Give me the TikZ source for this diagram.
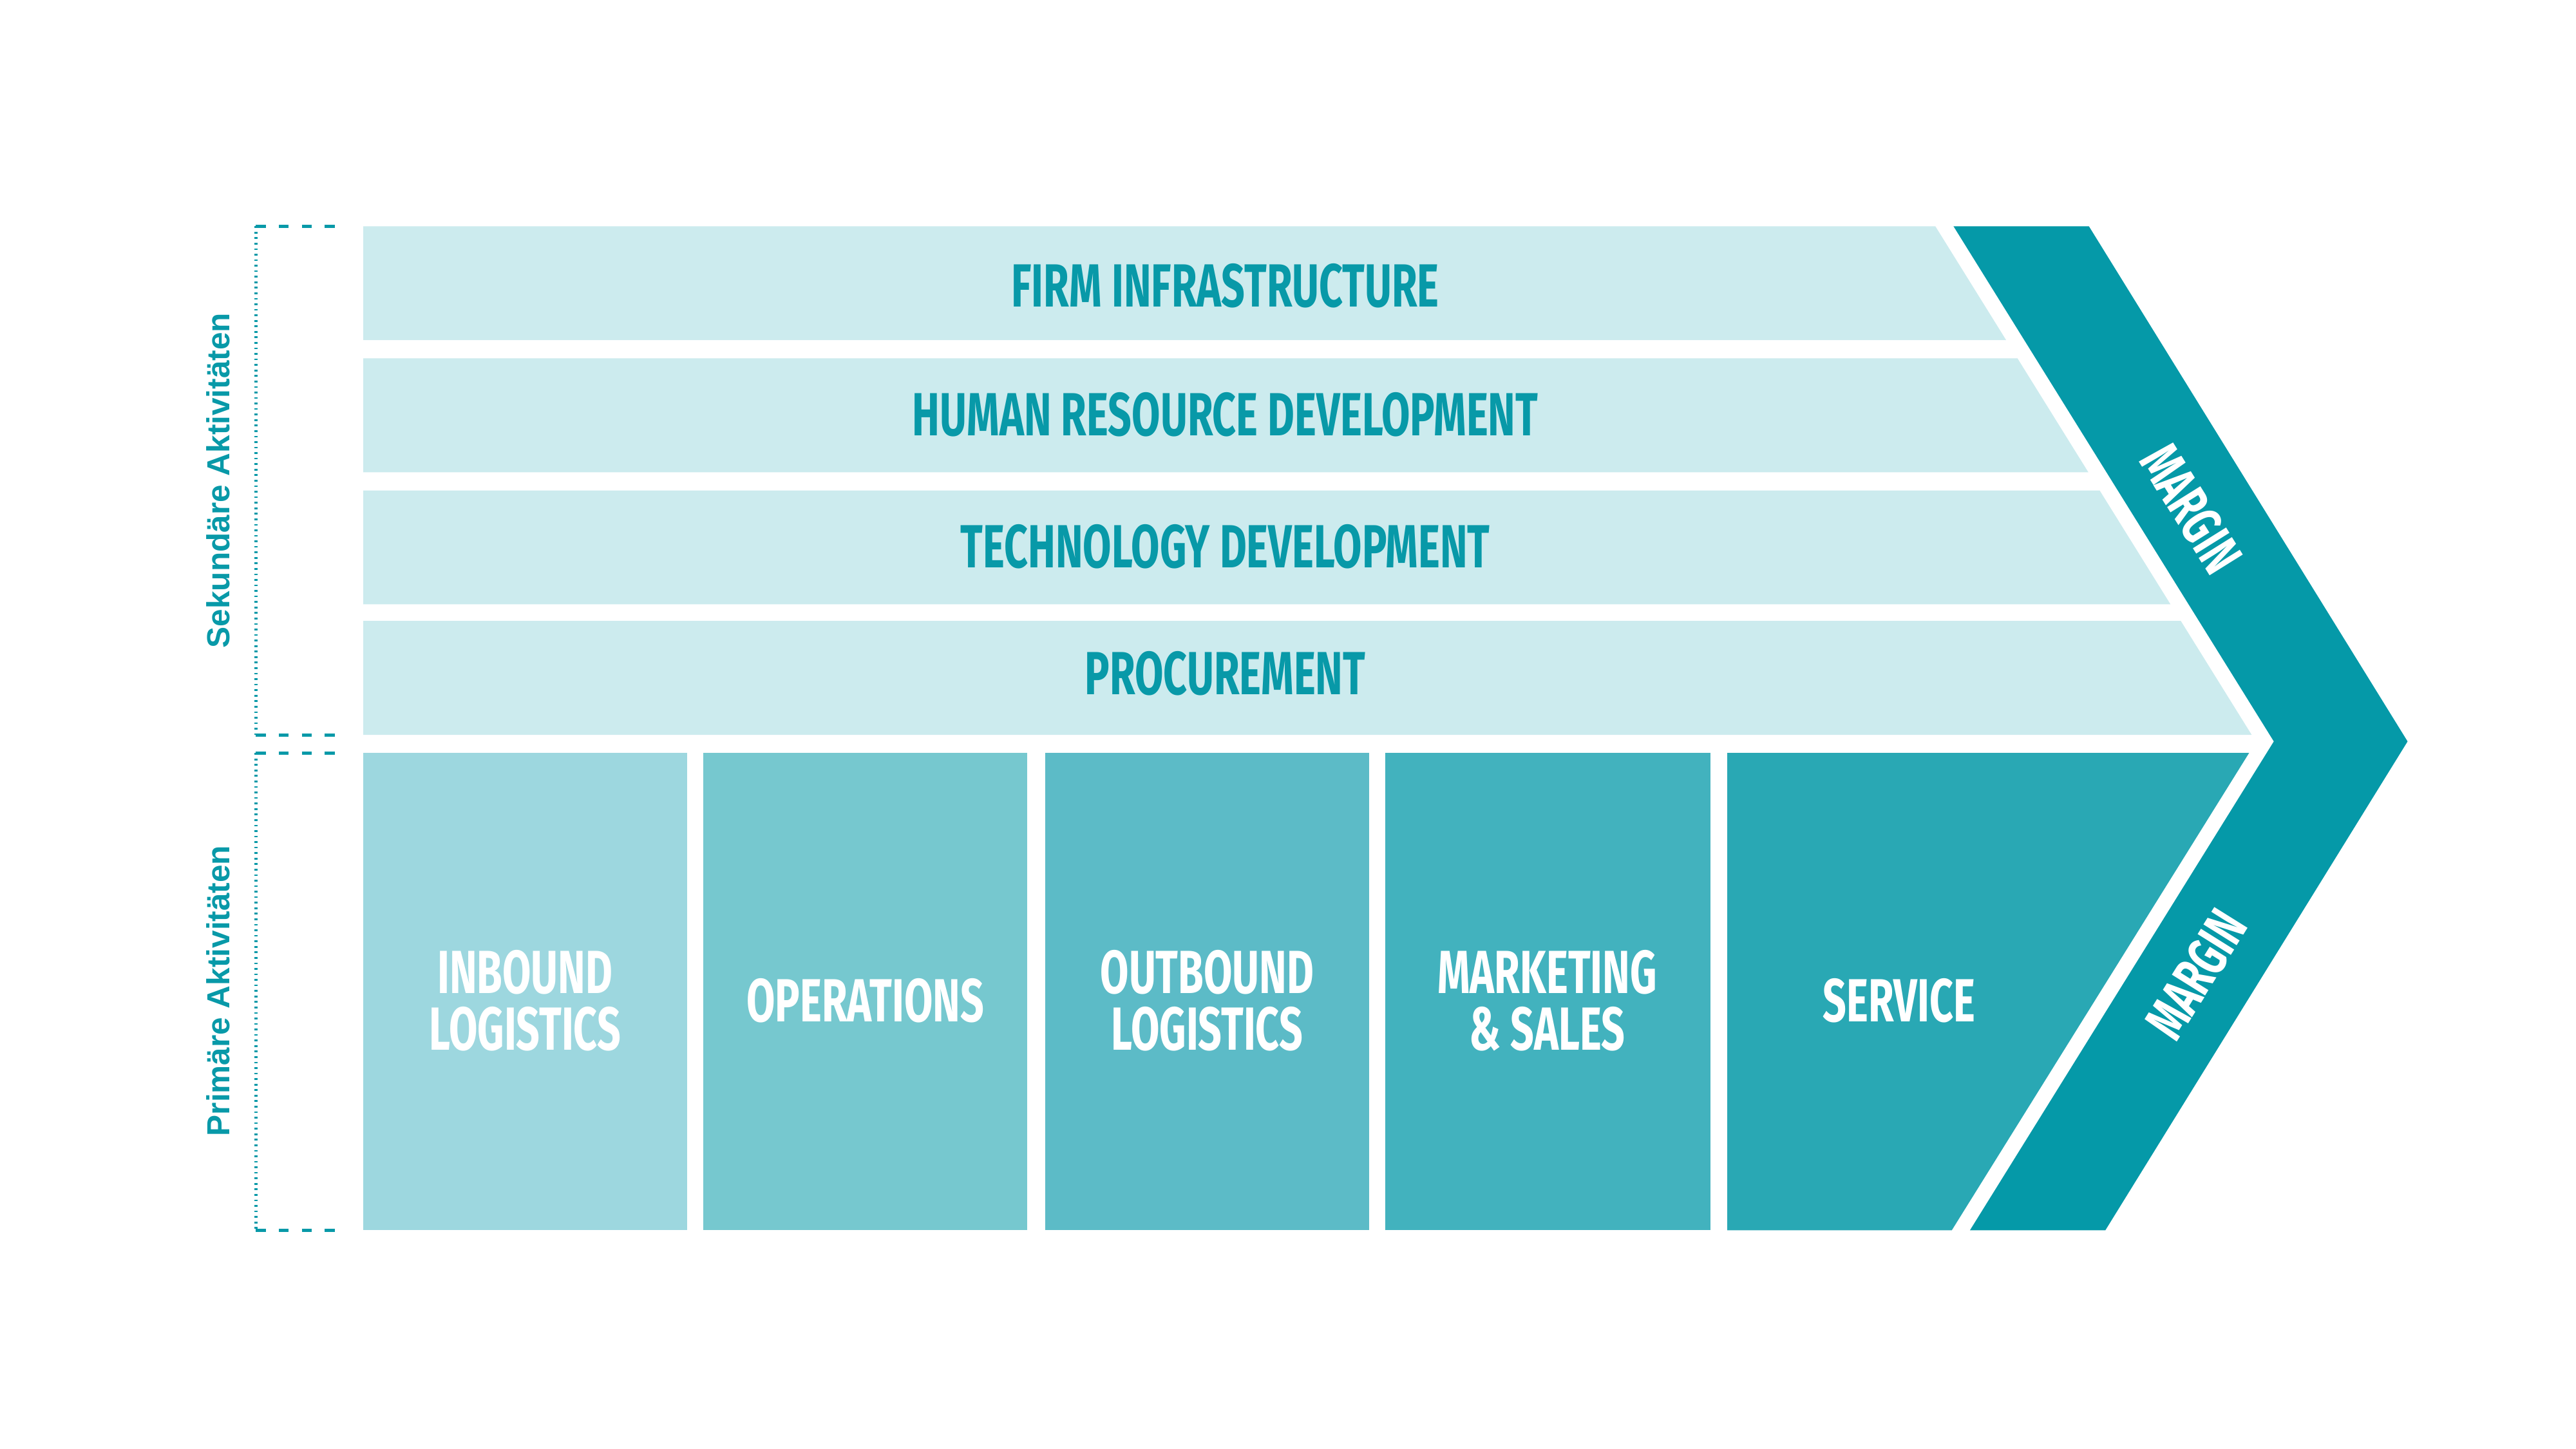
\documentclass[tikz,border=0pt]{standalone}
\usepackage{fontspec}
\usepackage{xcolor}
\usepackage{tikz}
\usetikzlibrary{positioning,calc}
\setsansfont{Liberation Sans}
\newfontfamily\dinfont[FakeStretch=0.68]{Fira Sans}

\definecolor{vcLight}{HTML}{CCEBEE}
\definecolor{vcText}{HTML}{0899A8}
\definecolor{vcPrimA}{HTML}{9DD7DF}
\definecolor{vcPrimB}{HTML}{76C8CF}
\definecolor{vcPrimC}{HTML}{5CBBC7}
\definecolor{vcPrimD}{HTML}{42B2BE}
\definecolor{vcPrimE}{HTML}{29A8B4}
\definecolor{vcMargin}{HTML}{0599A8}

\tikzset{
  supbar/.style={fill=vcLight},
  suplabel/.style={text=vcText, inner sep=0pt, font=\dinfont\bfseries\fontsize{21}{21}\selectfont},
  primlabel/.style={text=white, align=center, inner sep=0pt, font=\dinfont\bfseries\fontsize{21}{19.5}\selectfont},
  marginlabel/.style={text=white, inner sep=0pt, font=\dinfont\bfseries\fontsize{19.5}{19.5}\selectfont},
  sidelabel/.style={text=vcText, rotate=90, inner sep=0pt, font=\sffamily\bfseries\fontsize{11}{11}\selectfont},
  bracketv/.style={draw=vcText, line width=1.1pt, dash pattern=on 0.6pt off 1.3pt},
  bracketh/.style={draw=vcText, line width=1.1pt, dash pattern=on 3.4pt off 4.5pt}
}

\begin{document}
\begin{tikzpicture}[x=0.02cm, y=-0.02cm]
    \useasboundingbox (0,0) rectangle (1560,877.5);

    \foreach \t in {137,217,297,376}
        \fill[supbar] (220,\t) -- ({1172+(\t-137)*0.622},\t) -- ({1172+(\t+69-137)*0.622},{\t+69}) -- (220,{\t+69}) -- cycle;

    \fill[vcPrimA] (220,456) rectangle (416,745);
    \fill[vcPrimB] (426,456) rectangle (622,745);
    \fill[vcPrimC] (633,456) rectangle (829,745);
    \fill[vcPrimD] (839,456) rectangle (1036,745);
    \fill[vcPrimE] (1046,456) -- (1362,456) -- (1182,745) -- (1046,745) -- cycle;
    \fill[vcMargin] (1183,137) -- (1265,137) -- (1458,449) -- (1275,745) -- (1193,745) -- (1377,449) -- cycle;

    \node[suplabel] (firm) at (742,173) {FIRM INFRASTRUCTURE};
    \node[suplabel] (hrd) at (742,251) {HUMAN RESOURCE DEVELOPMENT};
    \node[suplabel] (tech) at (742,331) {TECHNOLOGY DEVELOPMENT};
    \node[suplabel] (proc) at (742,408) {PROCUREMENT};

    \node[primlabel] (inbound) at (318,606) {INBOUND\\LOGISTICS};
    \node[primlabel] (operations) at (524,606) {OPERATIONS};
    \node[primlabel] (outbound) at (731,606) {OUTBOUND\\LOGISTICS};
    \node[primlabel] (marketing) at (937,606) {MARKETING\\\& SALES};
    \node[primlabel] (service) at (1150,606) {SERVICE};

    \node[marginlabel, rotate=-58] (marginup) at (1327,308) {MARGIN};
    \node[marginlabel, rotate=58] (margindown) at (1330,590) {MARGIN};

    \draw[bracketv] (155,137) -- (155,445);
    \draw[bracketh] (155,137) -- (203,137);
    \draw[bracketh] (155,445) -- (203,445);
    \draw[bracketv] (155,456) -- (155,745);
    \draw[bracketh] (155,456) -- (203,456);
    \draw[bracketh] (155,745) -- (203,745);

    \node[sidelabel] (sekundaer) at (132,291) {Sekundäre Aktivitäten};
    \node[sidelabel] (primaer) at (132,600) {Primäre Aktivitäten};
\end{tikzpicture}
\end{document}
